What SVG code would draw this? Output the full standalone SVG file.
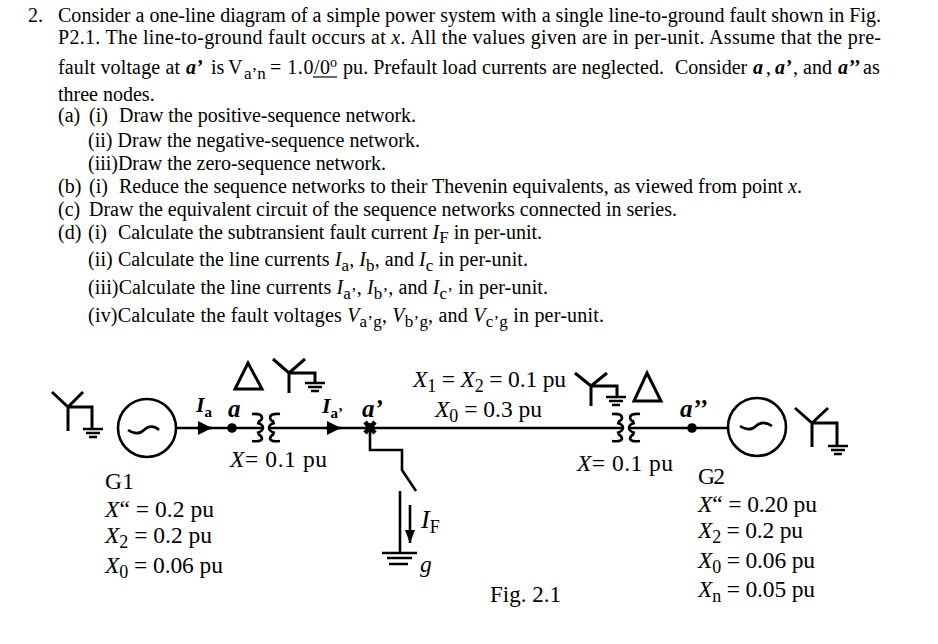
<svg xmlns="http://www.w3.org/2000/svg" width="938" height="644" viewBox="0 0 938 644">
<defs>
<marker id="arrow" markerUnits="userSpaceOnUse" markerWidth="16" markerHeight="16" refX="14" refY="8" orient="auto"><path d="M0 1L14 8L0 15Z" fill="#000"/></marker>
<marker id="arrowDown" markerUnits="userSpaceOnUse" markerWidth="14" markerHeight="14" refX="13" refY="7" orient="auto"><path d="M0 2L13 7L0 12L0 2Z" fill="#000"/></marker>
<path id="gnd" d="M-10 0H10M-7 4H7M-4 8H4" fill="none" stroke="#000" stroke-width="2.3"/>
<path id="coil" d="M0 1Q10 0 10 5Q10 7 6 9M5 10Q11 11 11 15Q11 18 5 20M6 21Q10 23 10 26Q9 29 0 28" fill="none" stroke="#000" stroke-width="2.6"/>
</defs>
<style>
text{font-family:"Liberation Serif","Times New Roman",serif;fill:#000;font-size:20px;white-space:pre}
.d{font-size:23.5px}
.sub{font-size:17px}
.dsub{font-size:18px}
.i{font-style:italic}
.bi{font-style:italic;font-weight:bold}
.lab{font-style:italic;font-weight:bold;font-size:25px}
.n{font-style:normal;font-weight:normal}
.nb{font-style:normal;font-size:15px}
.w{stroke:#000;stroke-width:3;fill:none}
.c{stroke:#000;stroke-width:2.6;fill:none}
</style>
<rect width="938" height="644" fill="#fff"/>
<g id="question">
<text x="28" y="22">2.</text>
<text x="58" y="22" textLength="823">Consider a one-line diagram of a simple power system with a single line-to-ground fault shown in Fig.</text>
<text x="58" y="44" textLength="823">P2.1. The line-to-ground fault occurs at <tspan class="i">x</tspan>. All the values given are in per-unit. Assume that the pre-</text>
<text x="58" y="74" textLength="122">fault voltage at</text>
<text x="186" y="74" class="bi">a’</text>
<text x="211" y="74">is</text>
<text x="228" y="74">V</text>
<text x="244" y="79" class="sub">a’n</text>
<text x="270" y="74" textLength="60">= 1.0/0</text>
<text x="330" y="67" style="font-size:14px">o</text>
<path d="M313 77H337" stroke="#000" stroke-width="1.2"/>
<text x="343" y="74" textLength="321">pu. Prefault load currents are neglected.</text>
<text x="675" y="74">Consider</text>
<text x="753" y="74" class="bi">a</text>
<text x="766" y="74">,</text>
<text x="775" y="74" class="bi">a’</text>
<text x="793" y="74">,</text>
<text x="803" y="74">and</text>
<text x="838" y="74" class="bi">a’’</text>
<text x="863" y="74">as</text>
<text x="58" y="101">three nodes.</text>
<text x="58" y="122">(a)</text>
<text x="89" y="122">(i)</text>
<text x="119" y="122" textLength="297">Draw the positive-sequence network.</text>
<text x="88" y="147" textLength="332">(ii) Draw the negative-sequence network.</text>
<text x="88" y="170" textLength="298">(iii)Draw the zero-sequence network.</text>
<text x="58" y="193">(b)</text>
<text x="89" y="193">(i)</text>
<text x="119" y="193" textLength="683">Reduce the sequence networks to their Thevenin equivalents, as viewed from point <tspan class="i">x</tspan>.</text>
<text x="58" y="216">(c)</text>
<text x="89" y="216" textLength="588">Draw the equivalent circuit of the sequence networks connected in series.</text>
<text x="58" y="239">(d)</text>
<text x="88" y="239">(i)</text>
<text x="118" y="239" textLength="424">Calculate the subtransient fault current <tspan class="i">I</tspan><tspan class="sub" dy="4">F</tspan><tspan dy="-4"> in per-unit.</tspan></text>
<text x="88" y="266" textLength="440">(ii) Calculate the line currents <tspan class="i">I</tspan><tspan class="sub" dy="5">a</tspan><tspan dy="-5">, </tspan><tspan class="i">I</tspan><tspan class="sub" dy="5">b</tspan><tspan dy="-5">, and </tspan><tspan class="i">I</tspan><tspan class="sub" dy="5">c</tspan><tspan dy="-5"> in per-unit.</tspan></text>
<text x="88" y="294" textLength="460">(iii)Calculate the line currents <tspan class="i">I</tspan><tspan class="sub" dy="5">a’</tspan><tspan dy="-5">, </tspan><tspan class="i">I</tspan><tspan class="sub" dy="5">b’</tspan><tspan dy="-5">, and </tspan><tspan class="i">I</tspan><tspan class="sub" dy="5">c’</tspan><tspan dy="-5"> in per-unit.</tspan></text>
<text x="88" y="322" textLength="516">(iv)Calculate the fault voltages <tspan class="i">V</tspan><tspan class="sub" dy="5">a’g</tspan><tspan dy="-5">, </tspan><tspan class="i">V</tspan><tspan class="sub" dy="5">b’g</tspan><tspan dy="-5">, and </tspan><tspan class="i">V</tspan><tspan class="sub" dy="5">c’g</tspan><tspan dy="-5"> in per-unit.</tspan></text>
</g>
<g id="connectors">
<path class="c" d="M176 428H262"/>
<path class="c" d="M197 428H212" marker-end="url(#arrow)"/>
<path class="c" d="M270 428H622"/>
<path class="c" d="M326 428H341" marker-end="url(#arrow)"/>
<path class="c" d="M630 428H727"/>
<path class="c" d="M370 428V450H402V470L416 491"/>
<path class="c" d="M400 491V553"/>
<path class="c" d="M410 505V543" marker-end="url(#arrowDown)"/>
</g>
<g id="G1">
<circle class="c" cx="147" cy="428" r="29"/>
<path class="c" d="M128 430C134 434 140 434 144 430S154 425 159 430"/>
<path class="w" d="M52 392L68 407L83 392M68 407V431M68 407H92V429"/>
<use href="#gnd" x="93" y="429"/>
<text x="105" y="489" class="d" textLength="29">G1</text>
<text x="105" y="517" class="d" textLength="109"><tspan class="i">X</tspan>“ = 0.2 pu</text>
<text x="105" y="543" class="d" textLength="107"><tspan class="i">X</tspan><tspan class="dsub" dy="5">2</tspan><tspan dy="-5"> = 0.2 pu</tspan></text>
<text x="105" y="573" class="d" textLength="118"><tspan class="i">X</tspan><tspan class="dsub" dy="5">0</tspan><tspan dy="-5"> = 0.06 pu</tspan></text>
</g>
<g id="T1">
<path class="w" d="M235 389H262L248 363Z"/>
<path class="w" d="M273 359L289 373L305 359M289 373V393M289 373H315V383"/>
<use href="#gnd" x="315" y="383"/>
<use href="#coil" x="252" y="413"/>
<use href="#coil" transform="translate(280 413) scale(-1 1)"/>
<text x="230" y="467" class="d" textLength="97"><tspan class="i">X</tspan>= 0.1 pu</text>
</g>
<g id="node-a">
<circle cx="232" cy="428" r="4.8" fill="#000"/>
<text x="228" y="417" class="lab">a</text>
<text x="196" y="412" class="bi" style="font-size:22px">I<tspan class="nb" dy="5">a</tspan></text>
</g>
<g id="node-a-prime">
<path d="M365 422L375 433M375 422L365 433" stroke="#000" stroke-width="4.5"/>
<circle cx="370" cy="427.5" r="4.5" fill="#000"/>
<text x="362" y="417" class="lab">a’</text>
<text x="322" y="413" class="bi" style="font-size:22px">I<tspan class="nb" dy="5">a’</tspan></text>
</g>
<g id="line-labels">
<text x="413" y="387" class="d" textLength="153"><tspan class="i">X</tspan><tspan class="dsub" dy="5">1</tspan><tspan dy="-5"> = </tspan><tspan class="i">X</tspan><tspan class="dsub" dy="5">2</tspan><tspan dy="-5"> = 0.1 pu</tspan></text>
<text x="435" y="417" class="d" textLength="107"><tspan class="i">X</tspan><tspan class="dsub" dy="5">0</tspan><tspan dy="-5"> = 0.3 pu</tspan></text>
</g>
<g id="T2">
<path class="w" d="M575 373L591 386L607 373M591 386V406M591 386H617V397"/>
<use href="#gnd" x="616" y="397"/>
<path class="w" d="M634 401H661L647 373Z"/>
<use href="#coil" x="612" y="413"/>
<use href="#coil" transform="translate(640 413) scale(-1 1)"/>
<text x="577" y="471" class="d" textLength="96"><tspan class="i">X</tspan>= 0.1 pu</text>
</g>
<g id="node-a-dprime">
<circle cx="692" cy="428" r="4.8" fill="#000"/>
<text x="680" y="417" class="lab">a’’</text>
</g>
<g id="G2">
<circle class="c" cx="757" cy="427" r="29"/>
<path class="c" d="M740 426C746 430 752 430 756 426S766 422 772 426"/>
<path class="w" d="M795 408L812 423L828 408M812 423V447M812 423H837V446"/>
<use href="#gnd" x="838" y="446"/>
<text x="698" y="484" class="d" textLength="27">G2</text>
<text x="698" y="512" class="d" textLength="119"><tspan class="i">X</tspan>“ = 0.20 pu</text>
<text x="698" y="538" class="d" textLength="105"><tspan class="i">X</tspan><tspan class="dsub" dy="5">2</tspan><tspan dy="-5"> = 0.2 pu</tspan></text>
<text x="698" y="568" class="d" textLength="117"><tspan class="i">X</tspan><tspan class="dsub" dy="5">0</tspan><tspan dy="-5"> = 0.06 pu</tspan></text>
<text x="698" y="597" class="d" textLength="117"><tspan class="i">X</tspan><tspan class="dsub" dy="5">n</tspan><tspan dy="-5"> = 0.05 pu</tspan></text>
</g>
<g id="fault-ground">
<path class="c" d="M382 553H417M387 558H412M389 564H408"/>
<text x="421" y="528" class="i" style="font-size:26px">I<tspan class="dsub n" dy="5">F</tspan></text>
<text x="420" y="572" class="d i">g</text>
</g>
<text x="490" y="602" style="font-size:23px">Fig. 2.1</text>
</svg>
